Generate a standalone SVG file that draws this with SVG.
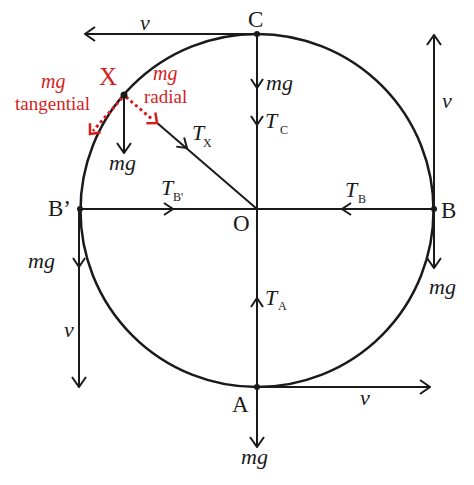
<svg xmlns="http://www.w3.org/2000/svg" width="474" height="485" viewBox="0 0 474 485">
<style>
.ln{stroke:#1a1a1a;stroke-width:2;fill:none}
.ch{stroke:#1a1a1a;stroke-width:2;fill:none;stroke-linejoin:miter}
.rch{stroke:#d41e1e;stroke-width:2.5;fill:none;stroke-linejoin:miter}
.rd{stroke:#d41e1e;stroke-width:3;fill:none;stroke-dasharray:3 3}
.pt{font-family:"Liberation Serif",serif;font-size:23px;fill:#1a1a1a}
.it{font-family:"Liberation Serif",serif;font-style:italic;font-size:22px;fill:#1a1a1a}
.sb{font-family:"Liberation Serif",serif;font-size:12px;fill:#1a1a1a}
.rt{font-family:"Liberation Serif",serif;font-size:19px;fill:#d41e1e}
.ri{font-family:"Liberation Serif",serif;font-style:italic;font-size:20px;fill:#d41e1e}
</style>
<defs>
<marker id="ah" viewBox="0 0 12 16" refX="11" refY="8" markerWidth="12" markerHeight="16" markerUnits="userSpaceOnUse" orient="auto">
<path d="M1,1 L11,8 L1,15" fill="none" stroke="#1a1a1a" stroke-width="2"/>
</marker>
<path id="chev" d="M-9,-6 L0,0 L-9,6"/>
<path id="rchev" d="M-8,-7 L0,0 L-8,7"/>
</defs>
<rect width="474" height="485" fill="#fff"/>
<g id="circle">
<circle cx="257" cy="210.5" r="176.5" fill="none" stroke="#1a1a1a" stroke-width="2.5"/>
</g>
<g id="connectors">
<line class="ln" x1="257" y1="34" x2="85" y2="34" marker-end="url(#ah)"/>
<line class="ln" x1="257" y1="34" x2="257" y2="387"/>
<line class="ln" x1="257" y1="387" x2="257" y2="447" marker-end="url(#ah)"/>
<line class="ln" x1="257" y1="387" x2="430" y2="387" marker-end="url(#ah)"/>
<line class="ln" x1="80" y1="209" x2="433" y2="209"/>
<line class="ln" x1="434" y1="209" x2="434" y2="35" marker-end="url(#ah)"/>
<line class="ln" x1="434" y1="209" x2="434" y2="268" marker-end="url(#ah)"/>
<line class="ln" x1="79" y1="209" x2="79" y2="387" marker-end="url(#ah)"/>
<line class="ln" x1="156" y1="122" x2="257" y2="209"/>
<line class="ln" x1="124" y1="95" x2="124" y2="153" marker-end="url(#ah)"/>
<use href="#chev" class="ch" transform="translate(257,88) rotate(90)"/>
<use href="#chev" class="ch" transform="translate(257,125) rotate(90)"/>
<use href="#chev" class="ch" transform="translate(257,298) rotate(-90)"/>
<use href="#chev" class="ch" transform="translate(173,209)"/>
<use href="#chev" class="ch" transform="translate(342,209) rotate(180)"/>
<use href="#chev" class="ch" transform="translate(79,267) rotate(90)"/>
<use href="#chev" class="ch" transform="translate(187,148) rotate(41)"/>
<line class="rd" x1="126" y1="97" x2="153" y2="120"/>
<use href="#rchev" class="rch" transform="translate(157,123) rotate(40)"/>
<line class="rd" x1="122" y1="98" x2="93" y2="131"/>
<use href="#rchev" class="rch" transform="translate(90,134) rotate(131)"/>
</g>
<g id="node-C">
<circle cx="257" cy="34" r="3" fill="#1a1a1a"/>
<text class="pt" x="248" y="27">C</text>
<text class="it" x="140" y="30">v</text>
<text class="it" x="266" y="90">mg</text>
<text class="it" x="265" y="128">T</text><text class="sb" x="280" y="134">C</text>
</g>
<g id="node-B">
<circle cx="434" cy="209" r="3" fill="#1a1a1a"/>
<text class="pt" x="441" y="218">B</text>
<text class="it" x="442" y="108">v</text>
<text class="it" x="429" y="294">mg</text>
<text class="it" x="345" y="197">T</text><text class="sb" x="358" y="203">B</text>
</g>
<g id="node-Bp">
<circle cx="80" cy="209" r="3" fill="#1a1a1a"/>
<text class="pt" x="48" y="216">B’</text>
<text class="it" x="28" y="268">mg</text>
<text class="it" x="64" y="337">v</text>
<text class="it" x="161" y="195">T</text><text class="sb" x="173" y="201">B'</text>
</g>
<g id="node-A">
<circle cx="257" cy="387" r="3" fill="#1a1a1a"/>
<text class="pt" x="232" y="412">A</text>
<text class="it" x="360" y="405">v</text>
<text class="it" x="241" y="464">mg</text>
<text class="it" x="265" y="305">T</text><text class="sb" x="278" y="310">A</text>
</g>
<g id="node-O">
<text class="pt" x="233" y="231">O</text>
</g>
<g id="node-X">
<circle cx="124" cy="95" r="3.5" fill="#1a1a1a"/>
<text class="pt" x="99" y="85" style="font-size:25px;fill:#d41e1e">X</text>
<text class="ri" x="41" y="88">mg</text>
<text class="rt" x="15" y="110">tangential</text>
<text class="ri" x="153" y="80">mg</text>
<text class="rt" x="144" y="103">radial</text>
<text class="it" x="109" y="170">mg</text>
<text class="it" x="192" y="140">T</text><text class="sb" x="203" y="147">X</text>
</g>
</svg>
